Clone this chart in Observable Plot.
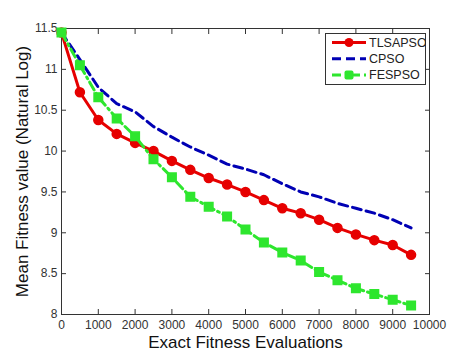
<!DOCTYPE html>
<html><head><meta charset="utf-8">
<script src="https://cdn.jsdelivr.net/npm/d3@7"></script>
<script src="https://cdn.jsdelivr.net/npm/@observablehq/plot@0.6"></script>
<style>
body{margin:0;background:#fff}
#wrap{position:relative;width:474px;height:354px;font-family:"Liberation Sans",Arial,sans-serif}
#legend{position:absolute;left:325px;top:33px}
</style>
</head><body><div id="wrap"></div>
<script>
const evals = [0,500,1000,1500,2000,2500,3000,3500,4000,4500,5000,5500,6000,6500,7000,7500,8000,8500,9000,9500];
const tlsapso = [11.45,10.72,10.38,10.21,10.10,10.00,9.88,9.77,9.67,9.59,9.50,9.40,9.30,9.24,9.16,9.06,8.98,8.91,8.85,8.73];
const cpso = [11.45,11.12,10.78,10.58,10.48,10.30,10.17,10.05,9.95,9.84,9.78,9.71,9.60,9.50,9.44,9.36,9.30,9.24,9.16,9.06];
const fespso = [11.45,11.05,10.66,10.40,10.18,9.90,9.68,9.44,9.32,9.20,9.04,8.88,8.76,8.66,8.52,8.42,8.32,8.25,8.18,8.11];
const xTicks = [0,1000,2000,3000,4000,5000,6000,7000,8000,9000,10000];
const yTicks = [8,8.5,9,9.5,10,10.5,11,11.5];
const seriesNames = ["TLSAPSO","CPSO","FESPSO"];
const xLabel = "Exact Fitness Evaluations";
const yLabel = "Mean Fitness value (Natural Log)";

const colors = {TLSAPSO:"#e60000", CPSO:"#0000b4", FESPSO:"#2ee62e"};
const dashes = {TLSAPSO:null, CPSO:"9,5", FESPSO:"9,4,2,4"};
const valuesBy = {TLSAPSO:tlsapso, CPSO:cpso, FESPSO:fespso};
const rows = seriesNames.flatMap(s => evals.map((e,i) => ({x:e, y:valuesBy[s][i], s})));
const of = s => rows.filter(r => r.s === s);

const font = "Liberation Sans, Arial, sans-serif";
const plot = Plot.plot({
  width: 474, height: 354,
  marginLeft: 61, marginRight: 45, marginTop: 28, marginBottom: 40,
  style: {fontFamily: font, fontSize: "12px", color: "#333", background: "#fff"},
  x: {domain: [0, 10000], label: null},
  y: {domain: [8, 11.5], label: null},
  marks: [
    Plot.axisX(xTicks, {anchor: "bottom", tickSize: -5, tickPadding: 11, label: null, fontSize: 12, stroke: "#333", fill: "#333", tickFormat: d => String(d)}),
    Plot.axisX(xTicks, {anchor: "top", tickSize: -5, tickFormat: () => "", label: null, stroke: "#333"}),
    Plot.axisY(yTicks, {anchor: "left", tickSize: -5, tickPadding: 9, label: null, fontSize: 12, stroke: "#333", fill: "#333", tickFormat: d => String(d)}),
    Plot.axisY(yTicks, {anchor: "right", tickSize: -5, tickFormat: () => "", label: null, stroke: "#333"}),
    Plot.frame({stroke: "#333"}),
    Plot.line(of("CPSO"), {x: "x", y: "y", stroke: colors.CPSO, strokeWidth: 3, strokeDasharray: dashes.CPSO}),
    Plot.line(of("TLSAPSO"), {x: "x", y: "y", stroke: colors.TLSAPSO, strokeWidth: 3}),
    Plot.dot(of("TLSAPSO"), {x: "x", y: "y", r: 4.5, fill: colors.TLSAPSO, stroke: colors.TLSAPSO}),
    Plot.line(of("FESPSO"), {x: "x", y: "y", stroke: colors.FESPSO, strokeWidth: 3, strokeDasharray: dashes.FESPSO}),
    Plot.dot(of("FESPSO"), {x: "x", y: "y", r: 4.8, symbol: "square", fill: colors.FESPSO, stroke: colors.FESPSO}),
    Plot.text([xLabel], {text: d => d, frameAnchor: "bottom", lineAnchor: "middle", dy: 28, fontSize: 17, fill: "#111"}),
    Plot.text([yLabel], {text: d => d, frameAnchor: "left", textAnchor: "middle", lineAnchor: "middle", dx: -39, rotate: -90, fontSize: 17, fill: "#111"})
  ]
});
const wrap = document.getElementById("wrap");
wrap.appendChild(plot);

// Legend
const lw = 101, lh = 52;
const lg = d3.create("svg").attr("id","legend").attr("width", lw).attr("height", lh);
lg.append("rect").attr("x",0.5).attr("y",0.5).attr("width",lw-1).attr("height",lh-1).attr("fill","#fff").attr("stroke","#333");
seriesNames.forEach((s, i) => {
  const y = 9.5 + i * 16.2;
  lg.append("line").attr("x1",7).attr("x2",41).attr("y1",y).attr("y2",y)
    .attr("stroke",colors[s]).attr("stroke-width",3).attr("stroke-dasharray",dashes[s]);
  if (s === "TLSAPSO") lg.append("circle").attr("cx",24).attr("cy",y).attr("r",4.5).attr("fill",colors[s]);
  if (s === "FESPSO") lg.append("rect").attr("x",19.5).attr("y",y-4.5).attr("width",9).attr("height",9).attr("rx",2).attr("fill",colors[s]);
  lg.append("text").attr("x",44).attr("y",y+4.5).attr("font-size",12.5).attr("fill","#222")
    .attr("font-family",font).text(s);
});
wrap.appendChild(lg.node());
</script>
</body></html>
